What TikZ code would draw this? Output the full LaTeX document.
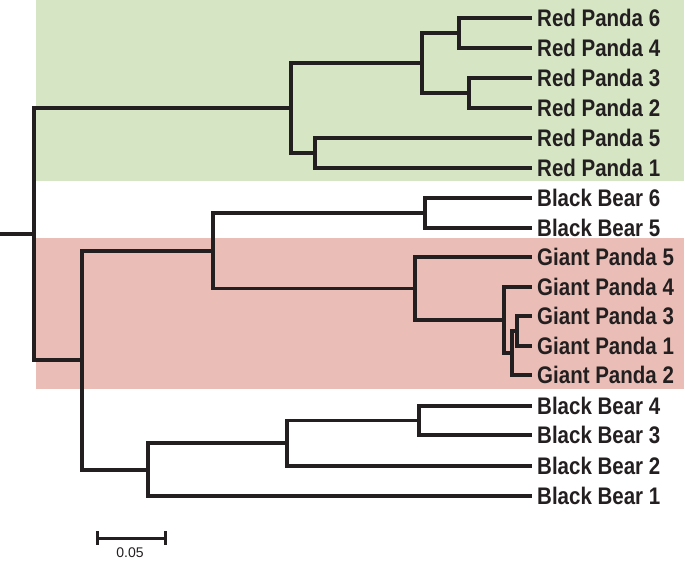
\documentclass[tikz,border=0pt]{standalone}
\usepackage{fontspec}
\setmainfont{Liberation Sans}
\usepackage{tikz}
\definecolor{branchcol}{RGB}{35,31,32}
\definecolor{rpgreen}{RGB}{214,229,196}
\definecolor{gpred}{RGB}{234,190,182}
\newcommand{\leafname}[1]{\scalebox{1}[1.17]{#1}}
\tikzstyle{branch} = [line width=3.8pt, draw=branchcol, line join=miter]
\tikzstyle{leaf} = [anchor=west, inner xsep=5pt, inner ysep=0pt, text height=17.2pt, text depth=0pt, font=\fontsize{20.5}{22}\selectfont\bfseries, text=branchcol]
\tikzstyle{band} = [draw=none]

\begin{document}
\begin{tikzpicture}[x=1pt, y=-1pt]
      \useasboundingbox (0,0) rectangle (685,562);
      \fill [band, rpgreen] (36,0) rectangle (684,181);
      \fill [band, gpred] (36,238) rectangle (684,389);

      \node (rp6) [leaf] at (532,18) {\leafname{Red Panda 6}};
      \node (rp4) [leaf] at (532,48) {\leafname{Red Panda 4}};
      \node (rp3) [leaf] at (532,78) {\leafname{Red Panda 3}};
      \node (rp2) [leaf] at (532,108) {\leafname{Red Panda 2}};
      \node (rp5) [leaf] at (532,138) {\leafname{Red Panda 5}};
      \node (rp1) [leaf] at (532,168) {\leafname{Red Panda 1}};
      \node (bb6) [leaf] at (532,198) {\leafname{Black Bear 6}};
      \node (bb5) [leaf] at (532,228) {\leafname{Black Bear 5}};
      \node (gp5) [leaf] at (532,257) {\leafname{Giant Panda 5}};
      \node (gp4) [leaf] at (532,287) {\leafname{Giant Panda 4}};
      \node (gp3) [leaf] at (532,316) {\leafname{Giant Panda 3}};
      \node (gp1) [leaf] at (532,346) {\leafname{Giant Panda 1}};
      \node (gp2) [leaf] at (532,375) {\leafname{Giant Panda 2}};
      \node (bb4) [leaf] at (532,406) {\leafname{Black Bear 4}};
      \node (bb3) [leaf] at (532,435) {\leafname{Black Bear 3}};
      \node (bb2) [leaf] at (532,466) {\leafname{Black Bear 2}};
      \node (bb1) [leaf] at (532,496) {\leafname{Black Bear 1}};

      \coordinate (stub) at (0,234);
      \coordinate (root) at (34,234);
      \coordinate (rpall) at (291,108);
      \coordinate (rp6432) at (422,63);
      \coordinate (rp64) at (459,33);
      \coordinate (rp32) at (469,93);
      \coordinate (rp51) at (315,153);
      \coordinate (rest) at (82,360);
      \coordinate (bbgp) at (213,251);
      \coordinate (bb65) at (425,213);
      \coordinate (gpall) at (415,288.5);
      \coordinate (gp4123) at (504,320);
      \coordinate (gp312) at (512,353);
      \coordinate (gp31) at (517,331);
      \coordinate (bbrest) at (148,469.6);
      \coordinate (bb432) at (287,443.3);
      \coordinate (bb43) at (419,420.5);

      \draw [branch] (stub) -- (root);
      \draw [branch] (root) |- (rpall);
      \draw [branch] (root) |- (rest);

      \draw [branch] (rpall) |- (rp6432);
      \draw [branch] (rpall) |- (rp51);
      \draw [branch] (rp6432) |- (rp64);
      \draw [branch] (rp6432) |- (rp32);
      \draw [branch] (rp64) |- (rp6.west);
      \draw [branch] (rp64) |- (rp4.west);
      \draw [branch] (rp32) |- (rp3.west);
      \draw [branch] (rp32) |- (rp2.west);
      \draw [branch] (rp51) |- (rp5.west);
      \draw [branch] (rp51) |- (rp1.west);

      \draw [branch] (rest) |- (bbgp);
      \draw [branch] (rest) |- (bbrest);
      \draw [branch] (bbgp) |- (bb65);
      \draw [branch] (bbgp) |- (gpall);
      \draw [branch] (bb65) |- (bb6.west);
      \draw [branch] (bb65) |- (bb5.west);
      \draw [branch] (gpall) |- (gp5.west);
      \draw [branch] (gpall) |- (gp4123);
      \draw [branch] (gp4123) |- (gp4.west);
      \draw [branch] (gp4123) |- (gp312);
      \draw [branch] (gp312) |- (gp31);
      \draw [branch] (gp312) |- (gp2.west);
      \draw [branch] (gp31) |- (gp3.west);
      \draw [branch] (gp31) |- (gp1.west);

      \draw [branch] (bbrest) |- (bb432);
      \draw [branch] (bbrest) |- (bb1.west);
      \draw [branch] (bb432) |- (bb43);
      \draw [branch] (bb432) |- (bb2.west);
      \draw [branch] (bb43) |- (bb4.west);
      \draw [branch] (bb43) |- (bb3.west);

      % scale bar
      \coordinate (sbl) at (97,538);
      \coordinate (sbr) at (165,538);
      \draw [branch, line width=3pt] (sbl) -- (sbr);
      \draw [branch, line width=3pt] ([yshift=7pt]sbl) -- ([yshift=-7pt]sbl);
      \draw [branch, line width=3pt] ([yshift=7pt]sbr) -- ([yshift=-7pt]sbr);
      \node (sblabel) [font=\fontsize{14}{15}\selectfont, text=branchcol, inner sep=0pt] at (130,552.5) {0.05};
\end{tikzpicture}
\end{document}
